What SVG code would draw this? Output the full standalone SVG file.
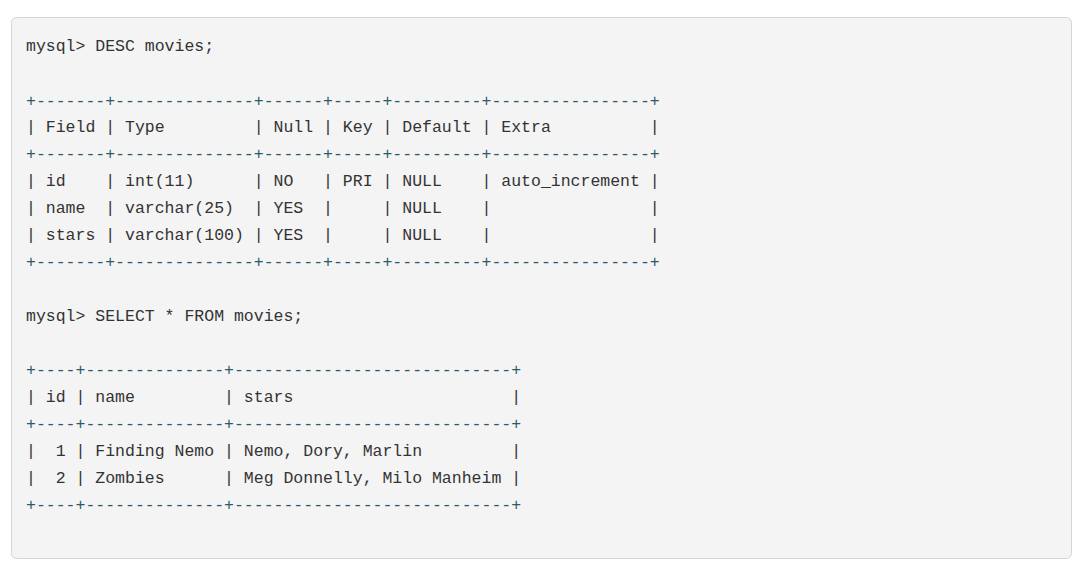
<svg xmlns="http://www.w3.org/2000/svg" width="1083" height="573" viewBox="0 0 1083 573">
<style>
text{font-family:"Liberation Mono","DejaVu Sans Mono",monospace;font-size:16.5px;fill:#333;white-space:pre}
.b{fill:#2c5a6a}
</style>
<rect x="0" y="0" width="1083" height="573" fill="#fff"/>
<rect x="11.5" y="17.5" width="1060" height="541" rx="5" fill="#f4f4f4" stroke="#d6d6d6"/>
<g id="code" xml:space="preserve">
<text x="26" y="51">mysql&gt; DESC movies;</text>
<text x="26" y="106" class="b">+-------+--------------+------+-----+---------+----------------+</text>
<text x="26" y="132">| Field | Type         | Null | Key | Default | Extra          |</text>
<text x="26" y="159" class="b">+-------+--------------+------+-----+---------+----------------+</text>
<text x="26" y="186">| id    | int(11)      | NO   | PRI | NULL    | auto_increment |</text>
<text x="26" y="213">| name  | varchar(25)  | YES  |     | NULL    |                |</text>
<text x="26" y="240">| stars | varchar(100) | YES  |     | NULL    |                |</text>
<text x="26" y="267" class="b">+-------+--------------+------+-----+---------+----------------+</text>
<text x="26" y="321">mysql&gt; SELECT * FROM movies;</text>
<text x="26" y="375" class="b">+----+--------------+----------------------------+</text>
<text x="26" y="402">| id | name         | stars                      |</text>
<text x="26" y="429" class="b">+----+--------------+----------------------------+</text>
<text x="26" y="456">|  1 | Finding Nemo | Nemo, Dory, Marlin         |</text>
<text x="26" y="483">|  2 | Zombies      | Meg Donnelly, Milo Manheim |</text>
<text x="26" y="510" class="b">+----+--------------+----------------------------+</text>
</g>
</svg>
